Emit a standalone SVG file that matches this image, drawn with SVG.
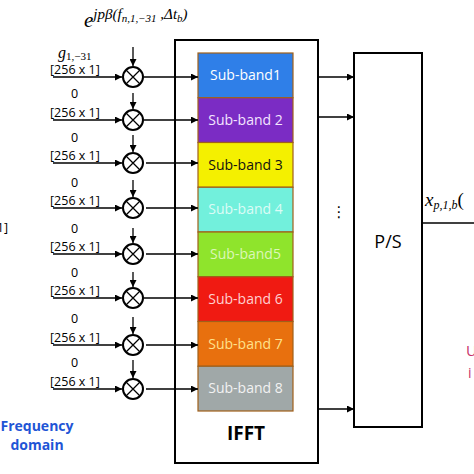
<svg xmlns="http://www.w3.org/2000/svg" width="474" height="474" viewBox="0 0 474 474">
<defs>
<marker id="ah" viewBox="0 0 10 10" refX="10" refY="5" markerWidth="7" markerHeight="7" markerUnits="userSpaceOnUse" orient="auto">
<path d="M0,0 L10,5 L0,10 z" fill="#000"/>
</marker>
</defs>
<style>
.ln{stroke:#000;stroke-width:1.3;fill:none}
.arr{stroke:#000;stroke-width:1.3;fill:none;marker-end:url(#ah)}
.box{stroke:#000;stroke-width:2;fill:#fff}
.mul{stroke:#000;stroke-width:2;fill:#fff}
.lbl{font-family:"Open Sans","DejaVu Sans",sans-serif;font-size:12.5px;fill:#000}
.sb{font-family:"Open Sans","DejaVu Sans",sans-serif;font-size:14px;text-anchor:middle}
.band{stroke:#a0601a;stroke-width:1.2}
.math{font-family:"Liberation Serif","DejaVu Serif",serif;font-style:italic;fill:#000}
</style>
<rect width="474" height="474" fill="#fff"/>

<g id="ifft">
<rect class="box" x="175" y="40" width="143" height="423"/>
<text x="246" y="440" font-family="'Open Sans','DejaVu Sans',sans-serif" font-weight="bold" font-size="19" text-anchor="middle">IFFT</text>
</g>

<g id="subbands">
<g id="sb1"><rect class="band" x="198" y="53" width="95" height="44.75" fill="#2f7fe8"/><text class="sb" x="245.5" y="80" fill="#ffffff">Sub-band1</text></g>
<g id="sb2"><rect class="band" x="198" y="97.75" width="95" height="44.75" fill="#7b2cc4"/><text class="sb" x="245.5" y="125" fill="#f3e6ff">Sub-band 2</text></g>
<g id="sb3"><rect class="band" x="198" y="142.5" width="95" height="44.75" fill="#f4f000"/><text class="sb" x="245.5" y="170" fill="#111">Sub-band 3</text></g>
<g id="sb4"><rect class="band" x="198" y="187.25" width="95" height="44.75" fill="#72f0dc"/><text class="sb" x="245.5" y="214" fill="#dcfcf6">Sub-band 4</text></g>
<g id="sb5"><rect class="band" x="198" y="232" width="95" height="44.75" fill="#8fe42c"/><text class="sb" x="245.5" y="259" fill="#ddf7b8">Sub-band5</text></g>
<g id="sb6"><rect class="band" x="198" y="276.75" width="95" height="44.75" fill="#f01a12"/><text class="sb" x="245.5" y="304" fill="#ffd0d0">Sub-band 6</text></g>
<g id="sb7"><rect class="band" x="198" y="321.5" width="95" height="44.75" fill="#e8700e"/><text class="sb" x="245.5" y="349" fill="#ffe28c">Sub-band 7</text></g>
<g id="sb8"><rect class="band" x="198" y="366.25" width="95" height="44.75" fill="#a0a8a8"/><text class="sb" x="245.5" y="393" fill="#f2f2f2">Sub-band 8</text></g>
</g>

<g id="ps">
<rect class="box" x="354" y="53" width="68" height="374"/>
<text x="388" y="248" font-family="'Open Sans','DejaVu Sans',sans-serif" font-size="18" text-anchor="middle">P/S</text>
</g>

<g id="multipliers">
<g id="m1"><circle class="mul" cx="133" cy="77" r="10"/><path class="ln" stroke-width="1.6" d="M126,70 L140,84 M140,70 L126,84"/></g>
<g id="m2"><circle class="mul" cx="133" cy="120" r="10"/><path class="ln" stroke-width="1.6" d="M126,113 L140,127 M140,113 L126,127"/></g>
<g id="m3"><circle class="mul" cx="133" cy="163" r="10"/><path class="ln" stroke-width="1.6" d="M126,156 L140,170 M140,156 L126,170"/></g>
<g id="m4"><circle class="mul" cx="133" cy="208" r="10"/><path class="ln" stroke-width="1.6" d="M126,201 L140,215 M140,201 L126,215"/></g>
<g id="m5"><circle class="mul" cx="133" cy="254" r="10"/><path class="ln" stroke-width="1.6" d="M126,247 L140,261 M140,247 L126,261"/></g>
<g id="m6"><circle class="mul" cx="133" cy="298" r="10"/><path class="ln" stroke-width="1.6" d="M126,291 L140,305 M140,291 L126,305"/></g>
<g id="m7"><circle class="mul" cx="133" cy="345" r="10"/><path class="ln" stroke-width="1.6" d="M126,338 L140,352 M140,338 L126,352"/></g>
<g id="m8"><circle class="mul" cx="133" cy="389" r="10"/><path class="ln" stroke-width="1.6" d="M126,382 L140,396 M140,382 L126,396"/></g>
</g>

<g id="connectors">
<path class="arr" d="M53,77 H122"/>
<path class="arr" d="M53,120 H122"/>
<path class="arr" d="M53,163 H122"/>
<path class="arr" d="M53,208 H122"/>
<path class="arr" d="M53,254 H122"/>
<path class="arr" d="M53,298 H122"/>
<path class="arr" d="M53,345 H122"/>
<path class="arr" d="M53,389 H122"/>
<path class="arr" d="M133,47 V66"/>
<path class="arr" d="M133,93 V109"/>
<path class="arr" d="M133,135 V152"/>
<path class="arr" d="M133,180 V197"/>
<path class="arr" d="M133,228 V243"/>
<path class="arr" d="M133,272 V287"/>
<path class="arr" d="M133,317 V334"/>
<path class="arr" d="M133,360 V378"/>
<path class="arr" d="M144,77 H198"/>
<path class="arr" d="M144,120 H198"/>
<path class="arr" d="M146,163 H198"/>
<path class="arr" d="M146,208 H198"/>
<path class="arr" d="M146,254 H198"/>
<path class="arr" d="M144,298 H198"/>
<path class="arr" d="M146,345 H198"/>
<path class="arr" d="M146,389 H198"/>
<path class="arr" d="M318,77 H354"/>
<path class="arr" d="M318,117 H354"/>
<path class="arr" d="M318,409 H354"/>
<path class="ln" d="M422,223 H474"/>
</g>

<g id="labels">
<text class="math" x="84" y="27" font-size="21">e<tspan font-size="15" dy="-8">jpβ(f</tspan><tspan font-size="11" dy="3">n,1,−31</tspan><tspan font-size="15" dy="-3"> ,Δt</tspan><tspan font-size="11" dy="3">b</tspan><tspan font-size="15" dy="-3">)</tspan></text>
<text class="math" x="58" y="58" font-size="16">g<tspan font-size="11" dy="2" font-style="normal">1,−31</tspan></text>
<text class="lbl" x="50" y="74">[256 x 1]</text>
<text class="lbl" x="71" y="98">0</text><text class="lbl" x="50" y="117">[256 x 1]</text>
<text class="lbl" x="71" y="142">0</text><text class="lbl" x="50" y="160">[256 x 1]</text>
<text class="lbl" x="71" y="187">0</text><text class="lbl" x="50" y="205">[256 x 1]</text>
<text class="lbl" x="71" y="233">0</text><text class="lbl" x="50" y="251">[256 x 1]</text>
<text class="lbl" x="71" y="277">0</text><text class="lbl" x="50" y="295">[256 x 1]</text>
<text class="lbl" x="71" y="323">0</text><text class="lbl" x="50" y="342">[256 x 1]</text>
<text class="lbl" x="71" y="367">0</text><text class="lbl" x="50" y="386">[256 x 1]</text>
<text class="lbl" x="8" y="232" text-anchor="end">1]</text>
<text x="37" y="431" font-family="'Open Sans','DejaVu Sans',sans-serif" font-weight="bold" font-size="14" fill="#1f55d6" text-anchor="middle">Frequency</text>
<text x="37" y="450" font-family="'Open Sans','DejaVu Sans',sans-serif" font-weight="bold" font-size="14" fill="#1f55d6" text-anchor="middle">domain</text>
<text x="339" y="217" font-family="'DejaVu Sans',sans-serif" font-size="15" text-anchor="middle">⋮</text>
<text class="math" x="425" y="206" font-size="19">x<tspan font-size="12" dy="3">p,1,b</tspan><tspan font-style="normal" font-size="19" dy="-3">(</tspan></text>
<text x="466" y="356" font-family="'Open Sans','DejaVu Sans',sans-serif" font-size="15" fill="#c8336a">U</text>
<text x="468" y="378" font-family="'Open Sans','DejaVu Sans',sans-serif" font-size="14" fill="#c8336a">i</text>
</g>
</svg>
